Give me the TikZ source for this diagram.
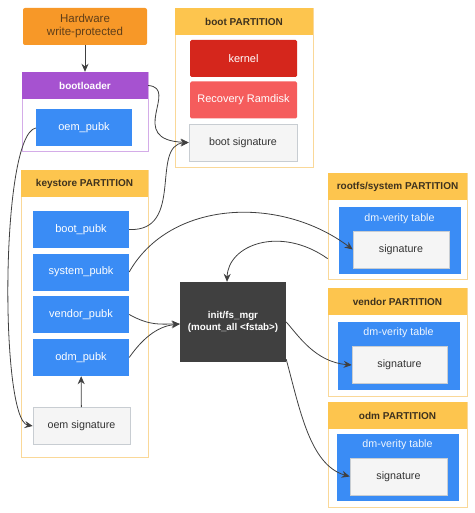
\documentclass[tikz,border=0pt]{standalone}
\usepackage{fontspec}
\setmainfont{Liberation Sans}
\usetikzlibrary{arrows.meta,positioning}

\definecolor{hworange}{RGB}{247,152,40}
\definecolor{hwtext}{RGB}{95,62,25}
\definecolor{blpurple}{RGB}{166,82,208}
\definecolor{blborder}{RGB}{212,172,232}
\definecolor{keyblue}{RGB}{58,140,245}
\definecolor{headyellow}{RGB}{253,197,78}
\definecolor{headtext}{RGB}{62,50,30}
\definecolor{partborder}{RGB}{250,216,152}
\definecolor{kernelred}{RGB}{213,38,28}
\definecolor{ramdiskred}{RGB}{245,92,92}
\definecolor{siggray}{RGB}{245,245,245}
\definecolor{sigborder}{RGB}{200,205,210}
\definecolor{initdark}{RGB}{64,64,64}
\definecolor{linegray}{RGB}{64,64,64}

\begin{document}
\begin{tikzpicture}[x=1pt,y=-1pt,
  box/.style={rectangle,inner sep=0pt,align=center,font=\fontsize{11}{13}\selectfont},
  hwbox/.style={box,fill=hworange,text=hwtext,font=\fontsize{11.5}{13}\selectfont,rounded corners=2pt,minimum width=124pt,minimum height=37pt},
  blframe/.style={box,draw=blborder,line width=0.8pt,fill=white,minimum width=126pt,minimum height=79pt},
  blhead/.style={box,fill=blpurple,text=white,font=\fontsize{10}{12}\selectfont\bfseries,minimum width=126pt,minimum height=27pt},
  part/.style={box,draw=partborder,line width=0.8pt,fill=white},
  parthead/.style={box,fill=headyellow,text=headtext,font=\fontsize{10}{12}\selectfont\bfseries,minimum height=27pt},
  keybox/.style={box,fill=keyblue,text=white,minimum width=96pt,minimum height=37pt},
  imgbox/.style={box,text=white,rounded corners=1.5pt,minimum width=107pt,minimum height=37pt},
  sigbox/.style={box,fill=siggray,draw=sigborder,line width=0.6pt,text=black!80,font=\fontsize{10.7}{13}\selectfont,minimum width=96pt,minimum height=37pt},
  dmbox/.style={box,fill=keyblue,minimum width=122pt},
  dmtext/.style={box,text=white!92!keyblue,font=\fontsize{10.7}{13}\selectfont},
  initbox/.style={box,fill=initdark,text=white,font=\fontsize{9.8}{12}\selectfont\bfseries,minimum width=106pt,minimum height=80pt},
  conn/.style={draw=linegray,line width=0.8pt},
  arr/.style={conn,-{Stealth[length=8pt,width=7pt]}}
]
\useasboundingbox (0,0) rectangle (474,513);

% bootloader
\node[hwbox] (hw) at (85,26.5) {Hardware\\write-protected};
\node[blframe] (bl) at (85,111.5) {};
\node[blhead] (blhead) at (85,85.5) {bootloader};
\node[keybox] (oempub) at (84,128) {oem\_pubk};

% boot partition
\node[part,minimum width=138pt,minimum height=159pt] (bootpart) at (244,87.5) {};
\node[parthead,minimum width=138pt] (boothead) at (244,21.5) {boot PARTITION};
\node[imgbox,fill=kernelred] (kernel) at (243.5,58.5) {kernel};
\node[imgbox,fill=ramdiskred] (ramdisk) at (243.5,100) {Recovery Ramdisk};
\node[sigbox,minimum width=108pt] (bootsig) at (243,142.5) {boot signature};

% keystore partition
\node[part,minimum width=127pt,minimum height=287pt] (keystore) at (84.5,313.5) {};
\node[parthead,minimum width=127pt] (keyhead) at (84.5,183.5) {keystore PARTITION};
\node[keybox] (bootpub) at (81,229.5) {boot\_pubk};
\node[keybox] (syspub) at (81,272) {system\_pubk};
\node[keybox] (vendpub) at (81,314.5) {vendor\_pubk};
\node[keybox] (odmpub) at (81,357.5) {odm\_pubk};
\node[sigbox,minimum width=97pt] (oemsig) at (81.5,426) {oem signature};

\node[initbox] (init) at (233,322) {init/fs\_mgr\\(mount\_all <fstab>)};

% rootfs, vendor, odm
\node[part,minimum width=139pt,minimum height=106pt] (rootfs) at (397.5,226) {};
\node[parthead,minimum width=139pt] (roothead) at (397.5,186.5) {rootfs/system PARTITION};
\node[dmbox,minimum height=67pt] (rootdm) at (399.5,240.5) {};
\node[dmtext] (roottab) at (399.5,219) {dm-verity table};
\node[sigbox] (rootsig) at (401,249.5) {signature};

\node[part,minimum width=139pt,minimum height=108pt] (vendor) at (397.5,342) {};
\node[parthead,minimum width=139pt] (vendhead) at (397.5,301.5) {vendor PARTITION};
\node[dmbox,minimum height=68pt] (venddm) at (398.5,356) {};
\node[dmtext] (vendtab) at (398.5,333) {dm-verity table};
\node[sigbox,minimum width=95pt] (vendsig) at (399.5,365) {signature};

\node[part,minimum width=139pt,minimum height=105pt] (odm) at (397.5,454.5) {};
\node[parthead,minimum width=139pt] (odmhead) at (397.5,415.5) {odm PARTITION};
\node[dmbox,minimum height=67pt] (odmdm) at (397.5,467.5) {};
\node[dmtext] (odmtab) at (397.5,445) {dm-verity table};
\node[sigbox,minimum width=97pt] (odmsig) at (398.5,476.5) {signature};

% connectors
\draw[arr] (hw) -- (blhead);
\draw[arr] (blhead.east) .. controls (180,88) and (125,140) .. (bootsig.west);
\draw[arr] (bootpub.east) .. controls (185,232) and (150,145) .. (bootsig.west);
\draw[arr] (oempub.west) .. controls (0,135) and (0,420) .. (oemsig.west);
\draw[arr] (oemsig) -- (odmpub);
\draw[arr] (syspub.east) .. controls (170,200) and (280,195) .. (rootsig.west);
\draw[arr] (rootfs.205) .. controls (280,225) and (228,245) .. ([xshift=-6pt]init.north);
\draw[arr] (vendpub.east) .. controls (150,326) and (160,324) .. ([yshift=-2pt]init.west);
\draw[arr] (odmpub.east) .. controls (145,335) and (160,326) .. ([yshift=-2pt]init.west);
\draw[arr] (init.east) .. controls (298,335) and (315,362) .. (vendsig.west);
\draw[arr] (init.-35) .. controls (300,410) and (310,465) .. (odmsig.west);
\end{tikzpicture}
\end{document}
